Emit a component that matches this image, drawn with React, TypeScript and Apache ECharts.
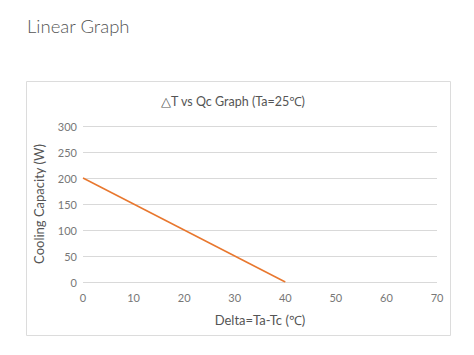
import React, { useEffect, useRef } from "react";
import * as echarts from "echarts";

const deltaT: number[] = [0, 40];
const coolingCapacity: number[] = [200, 0];
const xTicks: number[] = [0, 10, 20, 30, 40, 50, 60, 70];
const yTicks: number[] = [0, 50, 100, 150, 200, 250, 300];

export default function App() {
  const ref = useRef<HTMLDivElement>(null);
  useEffect(() => {
    if (!ref.current) return;
    const chart = echarts.init(ref.current, undefined, { renderer: "svg" });
    const font = "Lato, 'Noto Sans', sans-serif";
    chart.setOption({
      animation: false,
      backgroundColor: "#ffffff",
      textStyle: { fontFamily: font },
      graphic: [
        {
          type: "rect",
          shape: { x: 26.5, y: 81.5, width: 424, height: 254 },
          style: { fill: "#fff", stroke: "#dcdcdc", lineWidth: 1 },
          z: -10,
        },
      ],
      title: [
        {
          text: "Linear Graph",
          left: 27,
          top: 16,
          padding: 0,
          textStyle: { fontSize: 18.5, fontWeight: 300, color: "#555", fontFamily: font },
        },
        {
          text: "△T vs Qc Graph (Ta=25℃)",
          left: 233,
          textAlign: "center",
          top: 95,
          padding: 0,
          textStyle: { fontSize: 12.5, fontWeight: "normal", color: "#555", fontFamily: font },
        },
      ],
      grid: { left: 83, right: 37, top: 126, bottom: 73 },
      xAxis: {
        type: "value",
        min: xTicks[0],
        max: xTicks[xTicks.length - 1],
        interval: 10,
        name: "Delta=Ta-Tc (℃)",
        nameLocation: "middle",
        nameGap: 31,
        nameTextStyle: { fontSize: 13, color: "#555", fontFamily: font },
        axisLine: { show: false },
        axisTick: { show: false },
        splitLine: { show: false },
        axisLabel: { fontSize: 11, color: "#777", margin: 10 },
      },
      yAxis: {
        type: "value",
        min: yTicks[0],
        max: yTicks[yTicks.length - 1],
        interval: 50,
        name: "Cooling Capacity (W)",
        nameLocation: "middle",
        nameGap: 38,
        nameTextStyle: { fontSize: 13, color: "#555", fontFamily: font },
        axisLine: { show: false },
        axisTick: { show: false },
        splitLine: { lineStyle: { color: "#d9d9d9", width: 1 } },
        axisLabel: { fontSize: 11, color: "#777", margin: 6 },
      },
      series: [
        {
          type: "line",
          data: deltaT.map((x, i) => [x, coolingCapacity[i]]),
          showSymbol: false,
          lineStyle: { color: "#e8772e", width: 1.5 },
          itemStyle: { color: "#e8772e" },
        },
      ],
    });
    return () => chart.dispose();
  }, []);
  return (
    <div
      ref={ref}
      style={{ position: "absolute", left: 0, top: 0, width: 474, height: 355 }}
    />
  );
}
